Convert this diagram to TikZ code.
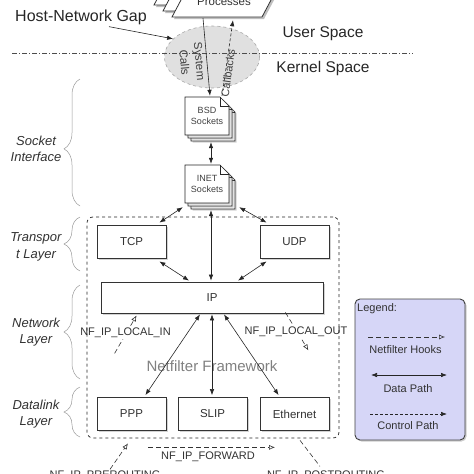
\documentclass[tikz,border=0pt]{standalone}
\usepackage{fontspec}
\setmainfont{Liberation Sans}
\usetikzlibrary{arrows.meta,shadows,decorations.pathreplacing,calc,shapes.geometric}
\definecolor{legendfill}{RGB}{214,214,247}
\definecolor{txt}{RGB}{50,50,50}
\newcommand\fs[1]{\fontsize{#1}{#1}\selectfont}
\begin{document}
\begin{tikzpicture}[x=1pt,y=-1pt,
  shad/.style={drop shadow={shadow xshift=1.5pt,shadow yshift=-1.5pt,opacity=0.35}},
  box/.style={draw=black!80, line width=0.8pt, fill=white, minimum height=33pt, inner sep=0pt, font=\fontsize{11.5}{14}\selectfont, text=txt, shad},
  sheet/.style={draw=black!85, line width=0.6pt, fill=white, shad},
  procsheet/.style={draw=black!80, line width=0.8pt, fill=white, drop shadow={shadow xshift=2pt,shadow yshift=-2pt,opacity=0.5}},
  data/.style={{Latex[length=6pt,width=4.5pt]}-{Latex[length=6pt,width=4.5pt]}, line width=0.6pt, black!85},
  solidarrow/.style={-{Latex[length=6pt,width=4.5pt]}, line width=0.6pt, black!85},
  hook/.style={-{Latex[open,length=6pt,width=5pt]}, dash pattern=on 5pt off 3pt, line width=0.6pt, black!80},
  ctrl/.style={-{Latex[length=6pt,width=4.5pt]}, dash pattern=on 3pt off 2pt, line width=0.6pt, black!85},
  layerbrace/.style={decorate, decoration={brace, amplitude=16pt, #1}, draw=black!40, line width=0.5pt},
  layerbrace/.default={aspect=0.5},
  layerlabel/.style={font=\itshape\fontsize{13}{16.5}\selectfont, align=center, text=txt},
  hooklabel/.style={font=\fontsize{11}{13}\selectfont, fill=white, inner sep=1pt, text=txt},
  plainlabel/.style={font=\fontsize{11}{13}\selectfont, inner sep=1pt, text=txt},
  bigtext/.style={font=\fontsize{15.5}{18}\selectfont, text=black!85, inner sep=1pt},
]
\useasboundingbox (0,0) rectangle (474,474);

% ---------- processes (stack of parallelograms)
\foreach \s in {18,9,0}
  \draw[procsheet] (172-\s,17-2*\s/3) -- (262-\s,17-2*\s/3) -- (280-\s,-17-2*\s/3) -- (190-\s,-17-2*\s/3) -- cycle;
\node[font=\fs{11.5}, text=txt, minimum width=90pt, minimum height=30pt, inner sep=0pt] (proc) at (224,2) {Processes};

% ---------- host-network gap
\node[ellipse, fill=black!12, draw=black!35, dashed, line width=0.6pt, minimum width=95pt, minimum height=62pt] (gap) at (212,57) {};
\draw[black!70, line width=0.6pt, dash pattern=on 5pt off 2pt on 1pt off 2pt] (12,53) -- (413,53);
\node[bigtext, font=\fs{16}] (hng) at (81,17) {Host-Network Gap};
\draw[solidarrow] ($(hng.south)+(28,1)$) -- (gap.155);
\node[bigtext] (user) at (323,34) {User Space};
\node[bigtext] (kernel) at (323,68) {Kernel Space};

% ---------- sockets (document stacks)
\foreach \s in {6,3,0} {
  \begin{scope}[shift={(207+\s,116+\s)}]
    \draw[sheet] (-22,-19) -- (13,-19) -- (22,-10) -- (22,19) -- (-22,19) -- cycle;
    \draw[black!85, line width=0.5pt] (13,-19) -- (13,-10) -- (22,-10);
  \end{scope}
  \begin{scope}[shift={(207+\s,184+\s)}]
    \draw[sheet] (-22,-19) -- (13,-19) -- (22,-10) -- (22,19) -- (-22,19) -- cycle;
    \draw[black!85, line width=0.5pt] (13,-19) -- (13,-10) -- (22,-10);
  \end{scope}
}
\node[font=\fontsize{9}{11.5}\selectfont, text=black!75, align=center, minimum width=44pt, minimum height=38pt, inner sep=0pt] (bsd) at (207,116) {BSD\\Sockets};
\node[font=\fontsize{9}{11.5}\selectfont, text=black!75, align=center, minimum width=44pt, minimum height=38pt, inner sep=0pt] (inet) at (207,184) {INET\\Sockets};

% system calls / callbacks
\draw[solidarrow] ($(proc.south)+(-21,1)$) -- ($(bsd.north)+(3,-1)$);
\draw[ctrl] ($(bsd.north)+(15,-1)$) -- ($(proc.south)+(9,3)$);
\node[rotate=-85, align=center, font=\fontsize{11.5}{15}\selectfont, text=black!75, inner sep=0pt] (sys) at (192,62) {System\\Calls};
\node[rotate=82, font=\fs{11}, text=black!75, inner sep=0pt] (cb) at (228,73) {Callbacks};

% ---------- braces and layer labels
\draw[layerbrace={aspect=0.45}] (80,206) -- (80,79);
\draw[layerbrace] (80,271) -- (80,217);
\draw[layerbrace] (80,379) -- (80,285);
\draw[layerbrace] (80,437) -- (80,387);
\node[layerlabel] (lsock) at (36,149) {Socket\\Interface};
\node[layerlabel] (ltrans) at (36,247) {Transpor\\t Layer};
\node[layerlabel] (lnet) at (36,332) {Network\\Layer};
\node[layerlabel] (ldata) at (36,414) {Datalink\\Layer};

% ---------- protocol boxes
\node[box, minimum width=69pt] (tcp) at (131.5,241.5) {TCP};
\node[box, minimum width=69pt] (udp) at (294.5,241.5) {UDP};
\node[box, minimum width=222pt, minimum height=31pt] (ip) at (212,297.5) {IP};
\node[box, minimum width=69pt] (ppp) at (131.5,414) {PPP};
\node[box, minimum width=69pt] (slip) at (212.5,414) {SLIP};
\node[box, minimum width=69pt] (eth) at (294.5,414) {Ethernet};

\node[font=\fs{15}, text=black!50] (nf) at (212,366) {Netfilter Framework};

% data paths
\draw[data] ($(bsd.south)+(4,7)$) -- ($(inet.north)+(4,-1)$);
\draw[data] ($(inet.south west)+(-2,4)$) -- ($(tcp.north east)+(-7,-2)$);
\draw[data] ($(inet.south)+(4,7)$) -- ($(ip.north)+(-1,-1)$);
\draw[data] ($(inet.south east)+(10,4)$) -- ($(udp.north west)+(7,-2)$);
\draw[data] ($(tcp.south east)+(-7,3)$) -- ($(ip.north)+(-23,-1)$);
\draw[data] ($(udp.south west)+(7,3)$) -- ($(ip.north)+(26,-1)$);
\draw[data] ($(ip.south)+(-12,1)$) -- ($(ppp.north east)+(-21,-2)$);
\draw[data] ($(ip.south)+(0,1)$) -- ($(slip.north)+(-0.5,-2)$);
\draw[data] ($(ip.south)+(12,1)$) -- ($(eth.north west)+(19,-2)$);

% netfilter hooks
\draw[hook] ($(ip.south west)+(14,40)$) -- ($(ip.south west)+(36,2)$);
\node[hooklabel] (nfin) at (125.5,333) {NF\_IP\_LOCAL\_IN};
\draw[hook] ($(ip.south east)+(-38,-1)$) -- ($(ip.south east)+(-15,37)$);
\node[hooklabel] (nfout) at (296,332) {NF\_IP\_LOCAL\_OUT};

% framework frame
\node[draw=black!85, dashed, line width=0.7pt, rounded corners=6pt, minimum width=252pt, minimum height=221pt, inner sep=0pt] (fw) at (213,327.5) {};

\draw[hook] ($(fw.south)+(-65,9)$) -- ($(fw.south)+(62,9)$);
\node[plainlabel] (nffwd) at (208,457) {NF\_IP\_FORWARD};
\draw[hook] ($(fw.south)+(-103,31)$) -- ($(fw.south)+(-85,5)$);
\draw[black!80, line width=0.6pt, dash pattern=on 5pt off 3pt] ($(fw.south)+(87,2)$) -- ($(fw.south)+(107,28)$);
\node[plainlabel, anchor=base] (nfpre) at (105,478) {NF\_IP\_PREROUTING};
\node[plainlabel, anchor=base] (nfpost) at (326,478) {NF\_IP\_POSTROUTING};

% ---------- legend
\node[draw=black!75, line width=0.9pt, fill=legendfill, rounded corners=5pt, minimum width=110pt, minimum height=141pt, inner sep=0pt, drop shadow={shadow xshift=1.5pt,shadow yshift=-1.5pt,opacity=0.4}] (legend) at (410,369.5) {};
\node[plainlabel, anchor=west] (legtitle) at (356,309) {Legend:};
\coordinate (h1) at (368,337); \coordinate (h2) at (445,337);
\draw[hook] (h1) -- (h2);
\node[plainlabel] (leghook) at (405.5,350) {Netfilter Hooks};
\coordinate (d1) at (371,375); \coordinate (d2) at (447,375);
\draw[data] (d1) -- (d2);
\node[plainlabel] (legdata) at (408,389) {Data Path};
\coordinate (c1) at (370,414); \coordinate (c2) at (447,414);
\draw[ctrl] (c1) -- (c2);
\node[plainlabel] (legctrl) at (408,426) {Control Path};
\end{tikzpicture}
\end{document}
